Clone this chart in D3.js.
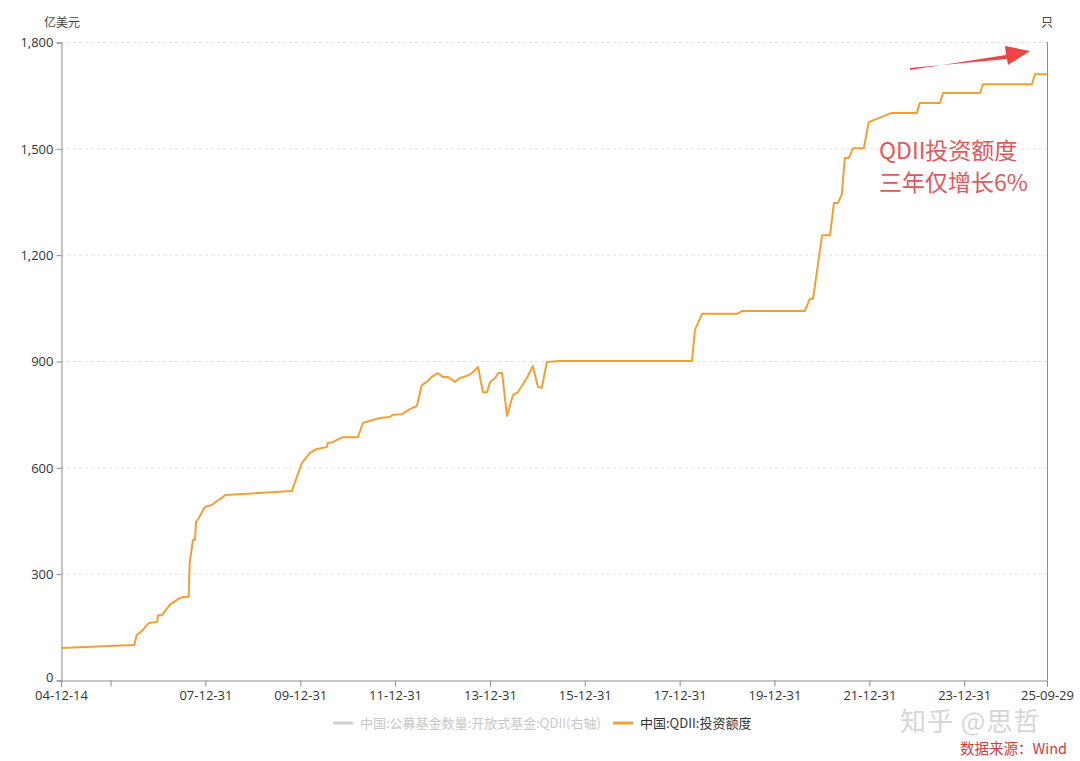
<!DOCTYPE html>
<html>
<head>
<meta charset="utf-8">
<script src="https://cdn.jsdelivr.net/npm/d3@7"></script>
<style>
  body { margin: 0; background: #fff; }
  svg { display: block; font-family: "Noto Sans CJK SC", "Noto Sans", sans-serif; }
</style>
</head>
<body>
<div id="chart"></div>
<script>
var width = 1080;
var height = 761;
var margin = {top: 42, right: 33, bottom: 81, left: 61};

// QDII investment quota (100m USD)
var quotaDates = [
  "2004-12-14", "2006-07-01", "2006-07-20", "2006-08-28", "2006-10-22", "2006-12-25",
  "2006-12-31", "2007-01-30", "2007-04-01", "2007-06-03", "2007-07-08", "2007-08-24",
  "2007-09-01", "2007-09-26", "2007-10-12", "2007-10-20", "2007-11-11", "2007-12-05",
  "2007-12-28", "2008-02-20", "2008-03-28", "2008-05-14", "2008-05-30", "2009-10-27",
  "2009-12-05", "2010-01-12", "2010-03-14", "2010-05-07", "2010-07-23", "2010-07-31",
  "2010-09-07", "2010-11-22", "2011-03-20", "2011-04-27", "2011-07-05", "2011-09-04",
  "2011-11-20", "2011-12-13", "2012-02-21", "2012-04-22", "2012-06-16", "2012-07-24",
  "2012-08-31", "2012-10-08", "2012-11-23", "2013-01-02", "2013-02-10", "2013-04-05",
  "2013-05-14", "2013-07-07", "2013-08-14", "2013-09-30", "2013-11-07", "2013-12-08",
  "2014-01-01", "2014-02-08", "2014-03-04", "2014-04-03", "2014-05-11", "2014-06-26",
  "2014-08-03", "2014-10-11", "2014-11-26", "2015-01-04", "2015-02-03", "2015-03-14",
  "2015-06-21", "2018-04-05", "2018-04-27", "2018-06-21", "2019-03-17", "2019-04-24",
  "2020-08-21", "2020-09-28", "2020-10-23", "2021-01-01", "2021-03-03", "2021-04-02",
  "2021-05-03", "2021-06-02", "2021-06-25", "2021-07-26", "2021-08-26", "2021-11-18",
  "2021-12-26", "2022-06-21", "2023-01-01", "2023-01-23", "2023-06-28", "2023-07-21",
  "2024-05-01", "2024-05-24", "2025-06-05", "2025-06-28", "2025-09-29"
];
var quotaValues = [
  90, 99, 127, 138, 161, 164,
  183, 183, 212, 228, 234, 234,
  330, 395, 395, 446, 457, 474,
  488, 494, 505, 516, 522, 533,
  573, 612, 640, 652, 657, 669,
  671, 685, 685, 725, 733, 739,
  742, 748, 750, 764, 773, 832,
  841, 855, 866, 855, 855, 841,
  852, 858, 866, 883, 812, 812,
  841, 852, 866, 866, 745, 804,
  812, 852, 886, 827, 824, 897,
  900, 900, 987, 1033, 1033, 1041,
  1041, 1075, 1075, 1255, 1255, 1346,
  1346, 1371, 1473, 1473, 1500, 1500,
  1574, 1600, 1600, 1628, 1628, 1656,
  1656, 1681, 1681, 1709, 1709
];

var yTicks = [0, 300, 600, 900, 1200, 1500, 1800];
var xTickDates = ["2004-12-14", "2005-12-31", "2007-12-31", "2009-12-31", "2011-12-31",
                  "2013-12-31", "2015-12-31", "2017-12-31", "2019-12-31", "2021-12-31",
                  "2023-12-31", "2025-09-29"];
var xTickLabels = ["04-12-14", "", "07-12-31", "09-12-31", "11-12-31", "13-12-31",
                   "15-12-31", "17-12-31", "19-12-31", "21-12-31", "23-12-31", "25-09-29"];
var legendNames = ["中国:公募基金数量:开放式基金:QDII(右轴)", "中国:QDII:投资额度"];
var noteLines = ["QDII投资额度", "三年仅增长6%"];

var parse = d3.timeParse("%Y-%m-%d");
var data = quotaDates.map(function(d, i) { return {date: parse(d), value: quotaValues[i]}; });

var x = d3.scaleTime()
    .domain([parse(xTickDates[0]), parse(xTickDates[xTickDates.length - 1])])
    .range([margin.left, width - margin.right]);
var y = d3.scaleLinear()
    .domain([0, 1800])
    .range([height - margin.bottom, margin.top]);

var svg = d3.select("#chart").append("svg")
    .attr("width", width)
    .attr("height", height);

// grid lines
svg.append("g")
    .selectAll("line")
    .data(yTicks.slice(1))
    .join("line")
    .attr("x1", margin.left)
    .attr("x2", width - margin.right)
    .attr("y1", d => y(d) + 0.5)
    .attr("y2", d => y(d) + 0.5)
    .attr("stroke", "#e2e2e2")
    .attr("stroke-dasharray", "3,3");

// left axis
var yAxis = d3.axisLeft(y)
    .tickValues(yTicks)
    .tickFormat(d3.format(","))
    .tickSize(5)
    .tickPadding(3);
var gy = svg.append("g")
    .attr("transform", "translate(" + (margin.left + 0.5) + ",0.5)")
    .call(yAxis);
gy.select(".domain").attr("stroke", "#8c8c8c");
gy.selectAll(".tick line").attr("stroke", "#8c8c8c");
gy.selectAll(".tick text")
    .attr("fill", "#333")
    .style("font-size", "13px")
    .style("font-family", "Open Sans, sans-serif");
// lift the zero label a little so it clears the first date label
gy.selectAll(".tick text").filter(d => d === 0).attr("dy", "0.1em");

// right axis (series hidden, line and unit only)
svg.append("line")
    .attr("x1", width - margin.right + 0.5)
    .attr("x2", width - margin.right + 0.5)
    .attr("y1", margin.top)
    .attr("y2", height - margin.bottom)
    .attr("stroke", "#8c8c8c");

// bottom axis
var xAxis = d3.axisBottom(x)
    .tickValues(xTickDates.map(parse))
    .tickFormat((d, i) => xTickLabels[i])
    .tickSize(6)
    .tickPadding(4);
var gx = svg.append("g")
    .attr("transform", "translate(0," + (height - margin.bottom + 0.5) + ")")
    .call(xAxis);
gx.select(".domain").attr("stroke", "#8c8c8c");
gx.selectAll(".tick line").attr("stroke", "#8c8c8c");
gx.selectAll(".tick text")
    .attr("fill", "#333")
    .style("font-size", "13px")
    .style("font-family", "Open Sans, sans-serif");

// unit labels
svg.append("text")
    .attr("x", 62)
    .attr("y", 27)
    .attr("text-anchor", "middle")
    .attr("fill", "#444")
    .style("font-size", "12px")
    .text("亿美元");
svg.append("text")
    .attr("x", width - margin.right)
    .attr("y", 27)
    .attr("text-anchor", "middle")
    .attr("fill", "#444")
    .style("font-size", "12px")
    .text("只");

// series line
var line = d3.line()
    .x(d => x(d.date))
    .y(d => y(d.value));
svg.append("path")
    .datum(data)
    .attr("d", line)
    .attr("fill", "none")
    .attr("stroke", "#f0a035")
    .attr("stroke-width", 2)
    .attr("stroke-linejoin", "round");

// legend
var legend = svg.append("g");
var legendItems = [
    {name: legendNames[0], x: 333, color: "#cfcfcf", text: "#c8c8c8"},
    {name: legendNames[1], x: 613, color: "#f0a035", text: "#333"}
];
legendItems.forEach(function(item) {
    legend.append("line")
        .attr("x1", item.x)
        .attr("x2", item.x + 20)
        .attr("y1", 723)
        .attr("y2", 723)
        .attr("stroke", item.color)
        .attr("stroke-width", 3);
    legend.append("text")
        .attr("x", item.x + 27)
        .attr("y", 727.5)
        .attr("fill", item.text)
        .style("font-size", "13px")
        .text(item.name);
});

// annotation
svg.append("g")
    .selectAll("text")
    .data(noteLines)
    .join("text")
    .attr("x", 879)
    .attr("y", (d, i) => 159 + i * 32)
    .attr("fill", "#e2575c")
    .style("font-size", "23px")
    .text(d => d);

// arrow: tapered shaft + head
svg.append("path")
    .attr("d", "M910,70 L1006,55 L1005,46 L1030,51 L1008,65 L1007,59 L910,68 Z")
    .attr("fill", "#ec4548");

// watermark
svg.append("text")
    .attr("x", 900)
    .attr("y", 731)
    .attr("fill", "#d6d6d6")
    .style("font-size", "26px")
    .style("letter-spacing", "1px")
    .text("知乎 @思哲");

// source
svg.append("text")
    .attr("x", 1067)
    .attr("y", 754)
    .attr("text-anchor", "end")
    .attr("fill", "#d23c3c")
    .style("font-size", "14.5px")
    .text("数据来源：Wind");
</script>
</body>
</html>
